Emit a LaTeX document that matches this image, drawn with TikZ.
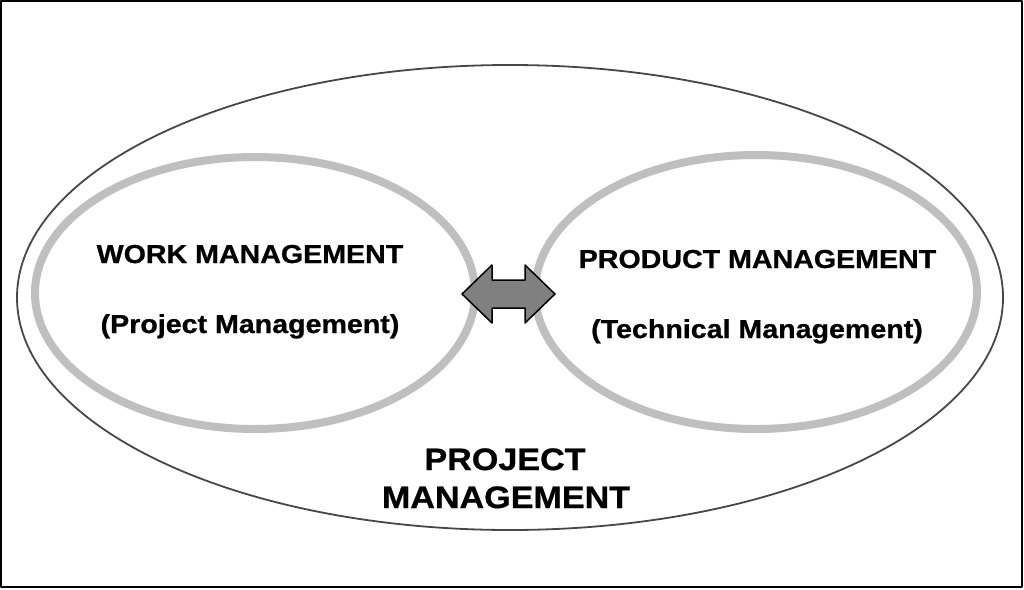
\documentclass[tikz,border=0pt]{standalone}
\usepackage{fontspec}
\setmainfont{Liberation Sans}[FakeStretch=1.1,BoldFeatures={FakeBold=0.8}]
\begin{document}
\begin{tikzpicture}[x=1pt,y=-1pt,line join=round,font=\bfseries\fontsize{26}{30}\selectfont]
			%Khung và các ellipse
			\useasboundingbox (0,0) rectangle (1024,589);
			\path 
			(510,297.5) coordinate (O)
			(255,293) coordinate (W)
			(756,292) coordinate (P)
			(508.5,294) coordinate (M)
			;
			\draw[line width=1.5] (1,1) rectangle (1022,587);
			\draw[line width=1.8,black!72] (O) ellipse [x radius=493,y radius=232.5];
			\foreach \t/\rx/\ry in {W/220/136,P/221/137}{
				\draw[line width=8,black!25] (\t) ellipse [x radius=\rx,y radius=\ry];}
			%Mũi tên hai chiều
			\draw[line width=1.5,fill=black!50] (M)++(-46.5,0)--++(30,-29)--++(0,15)--++(33,0)--++(0,-15)--++(30,29)
			--++(-30,29)--++(0,-15)--++(-33,0)--++(0,15)--cycle;
			%Chữ
			\node[anchor=base] (work) at (250,263) {WORK MANAGEMENT};
			\node[anchor=base] (workpm) at (250,333) {(Project Management)};
			\node[anchor=base] (prod) at (757.5,268) {PRODUCT MANAGEMENT};
			\node[anchor=base] (prodtm) at (757,338) {(Technical Management)};
			\node[anchor=base,font=\bfseries\fontsize{31}{38}\selectfont] (proj) at (505,470) {PROJECT};
			\node[anchor=base,font=\bfseries\fontsize{31}{38}\selectfont] (mgmt) at (506,508) {MANAGEMENT};
	\end{tikzpicture}
\end{document}
